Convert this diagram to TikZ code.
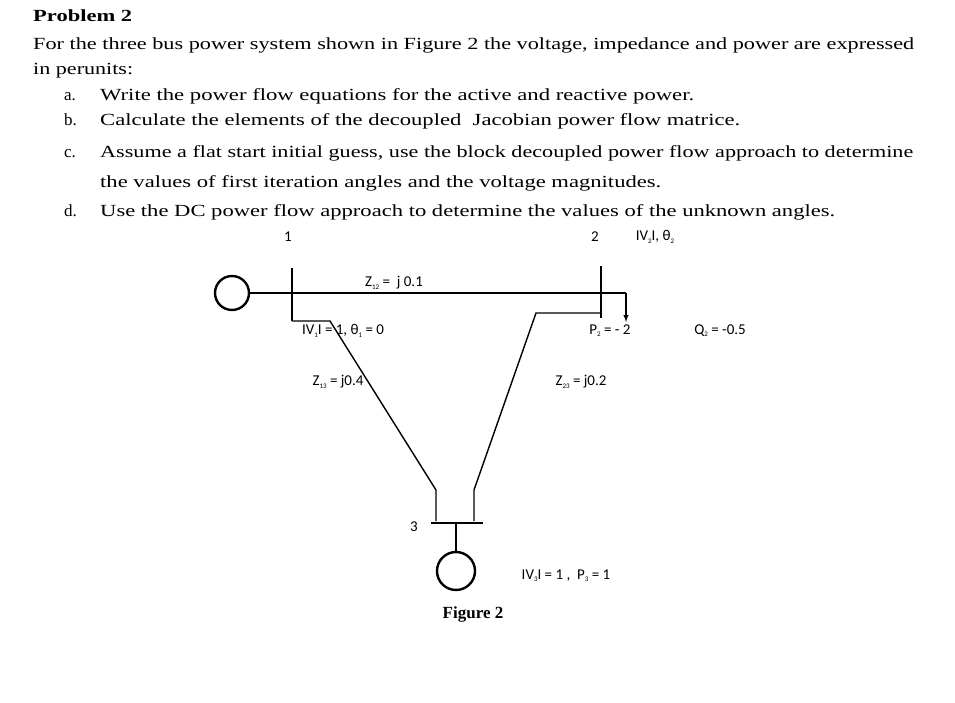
\documentclass[tikz,border=0pt]{standalone}
\usepackage{fontspec}
\usepackage{graphicx}
\setmainfont{Liberation Serif}
\newfontfamily\calfont{Carlito}
\newcommand{\fw}[2]{\resizebox{#1pt}{\height}{#2}}
\newcommand{\sbs}[1]{\raisebox{-0.15em}{\scriptsize #1}}
\begin{document}
\begin{tikzpicture}[x=1pt,y=-1pt,
  txt/.style={anchor=base west,inner sep=0,font=\fontsize{17}{20}\selectfont},
  lbl/.style={anchor=center,inner sep=0,font=\calfont\fontsize{15}{18}\selectfont},
  wire/.style={line width=1.4pt},
  gen/.style={circle,draw,line width=2.4pt,inner sep=0}]
\useasboundingbox (0,0) rectangle (955,703);
\fill[white] (0,0) rectangle (955,703);
% text
\node[txt,font=\bfseries\fontsize{17}{20}\selectfont] (t0) at (33,22) {\fw{99}{Problem 2}};
\node[txt] (t1) at (33,50) {\fw{881}{For the three bus power system shown in Figure 2 the voltage, impedance and power are expressed}};
\node[txt] (t2) at (33,75) {\fw{100}{in perunits:}};
\node[txt] (a0) at (64,101) {a.};
\node[txt] (a1) at (100,101) {\fw{594}{Write the power flow equations for the active and reactive power.}};
\node[txt] (b0) at (64,126) {b.};
\node[txt] (b1) at (100,126) {\fw{640}{Calculate the elements of the decoupled\ \ Jacobian power flow matrice.}};
\node[txt] (c0) at (64,158) {c.};
\node[txt] (c1) at (100,158) {\fw{813}{Assume a flat start initial guess, use the block decoupled power flow approach to determine}};
\node[txt] (c2) at (100,188) {\fw{561}{the values of first iteration angles and the voltage magnitudes.}};
\node[txt] (d0) at (64,217) {d.};
\node[txt] (d1) at (100,217) {\fw{735}{Use the DC power flow approach to determine the values of the unknown angles.}};
% diagram
\node[gen,minimum size=34pt] (g1) at (232,293) {};
\node[gen,minimum size=38pt] (g3) at (456,571) {};
\coordinate (b1t) at (292,268); \coordinate (b1b) at (292,321);
\coordinate (b2t) at (601,266); \coordinate (b2b) at (601,318);
\coordinate (b3l) at (431,523); \coordinate (b3r) at (483,523);
\coordinate (l2) at (626,293); \coordinate (l2e) at (626,322);
\draw[wire] (b1t) -- (b1b);
\draw[wire] (b2t) -- (b2b);
\draw[wire] (b3l) -- (b3r);
\draw[wire] (g1.east) -- (l2);
\draw[wire,-latex] (l2) -- (l2e);
\draw[wire] (b1b) -- (330,321) -- (436,490) -- (436,521);
\draw[wire] (601,313) -- (536,313) -- (474,490) -- (474,521);
\draw[wire] (456,523) -- (g3.north);
\node[lbl] (n1) at (288,237) {1};
\node[lbl] (n2) at (595,237) {2};
\node[lbl] (v2) at (655,237) {IV\sbs{2}I, θ\sbs{2}};
\node[lbl] (z12) at (394,283) {Z\sbs{12} = \ j 0.1};
\node[lbl] (v1) at (343,331) {IV\sbs{1}I = 1, θ\sbs{1} = 0};
\node[lbl] (z13) at (338,382) {Z\sbs{13} = j0.4};
\node[lbl] (z23) at (581,382) {Z\sbs{23} = j0.2};
\node[lbl] (p2) at (610,331) {P\sbs{2} = - 2};
\node[lbl] (q2) at (720,331) {Q\sbs{2} = -0.5};
\node[lbl] (n3) at (414,527) {3};
\node[lbl] (v3) at (566,576) {IV\sbs{3}I = 1 ,\ \ P\sbs{3} = 1};
\node[anchor=center,inner sep=0,font=\bfseries\fontsize{17}{20}\selectfont] (fig) at (473,614) {Figure 2};
\end{tikzpicture}
\end{document}
